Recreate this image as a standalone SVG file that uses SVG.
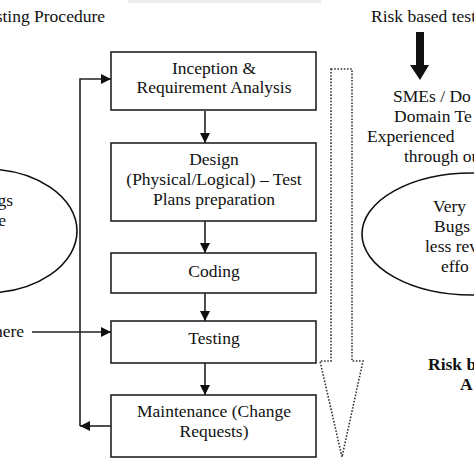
<svg xmlns="http://www.w3.org/2000/svg" width="474" height="474" viewBox="0 0 474 474">
<defs>
<style>
text{font-family:"Liberation Serif","Times New Roman",serif;font-size:17.5px;fill:#111}
.c{text-anchor:middle}
.b{font-weight:bold}
.box{fill:#fff;stroke:#222;stroke-width:1.6}
.ln{fill:none;stroke:#222;stroke-width:1.6}
</style>
<marker id="ah" viewBox="0 0 10 10" refX="10" refY="5" markerWidth="10" markerHeight="10" markerUnits="userSpaceOnUse" orient="auto">
<path d="M0,0 L10,5 L0,10 Z" fill="#111"/>
</marker>
</defs>
<rect width="474" height="474" fill="#fff"/>
<rect x="128" y="0" width="193" height="3" fill="#eeeeee"/>
<text x="105" y="22" text-anchor="end">sting Procedure</text>
<text x="371" y="22">Risk based test</text>

<g id="connectors">
<line class="ln" x1="205" y1="111" x2="205" y2="143" marker-end="url(#ah)"/>
<line class="ln" x1="205" y1="221" x2="205" y2="253" marker-end="url(#ah)"/>
<line class="ln" x1="205" y1="293" x2="205" y2="321" marker-end="url(#ah)"/>
<line class="ln" x1="205" y1="363" x2="205" y2="395" marker-end="url(#ah)"/>
<line class="ln" x1="111" y1="426" x2="80" y2="426" marker-end="url(#ah)"/>
<polyline class="ln" points="80,426 80,79 111,79" marker-end="url(#ah)"/>
<line class="ln" x1="32" y1="332" x2="111" y2="332" marker-end="url(#ah)"/>
<polygon points="331,69 352,69 352,361 363,361 342,457 320,361 331,361" fill="none" stroke="#333" stroke-width="1.6" stroke-dasharray="1.6,1.6"/>
<path d="M416,32 H424 V65 H429 L420,80 L410,65 H416 Z" fill="#111"/>
</g>

<g id="inception">
<rect class="box" x="111" y="52" width="205" height="58"/>
<text class="c" x="214" y="74">Inception &amp;</text>
<text class="c" x="214" y="93">Requirement Analysis</text>
</g>
<g id="design">
<rect class="box" x="111" y="143" width="205" height="78"/>
<text class="c" x="214" y="165">Design</text>
<text class="c" x="214" y="185">(Physical/Logical) – Test</text>
<text class="c" x="214" y="205">Plans preparation</text>
</g>
<g id="coding">
<rect class="box" x="111" y="253" width="205" height="40"/>
<text class="c" x="214" y="277">Coding</text>
</g>
<g id="testing">
<rect class="box" x="111" y="321" width="205" height="42"/>
<text class="c" x="214" y="344">Testing</text>
</g>
<g id="maintenance">
<rect class="box" x="111" y="395" width="205" height="62"/>
<text class="c" x="214" y="417">Maintenance (Change</text>
<text class="c" x="214" y="437">Requests)</text>
</g>

<g id="left-ellipse">
<ellipse cx="-15" cy="231" rx="92" ry="62" fill="none" stroke="#111" stroke-width="1.6"/>
<text x="13" y="206" text-anchor="end">gs</text>
<text x="6" y="226" text-anchor="end">e</text>
</g>
<g id="here">
<text x="24" y="337" text-anchor="end">here</text>
</g>

<g id="smes">
<text x="393" y="102">SMEs / Do</text>
<text x="394" y="122">Domain Te</text>
<text x="367" y="142">Experienced</text>
<text x="404" y="162">through ou</text>
</g>
<g id="right-ellipse">
<ellipse cx="472" cy="234" rx="110" ry="61" fill="none" stroke="#111" stroke-width="1.6"/>
<text x="433" y="212">Very</text>
<text x="434" y="232">Bugs</text>
<text x="425" y="252">less rev</text>
<text x="441" y="272">effo</text>
</g>
<g id="risk-label">
<text class="b" x="428" y="370">Risk b</text>
<text class="b" x="460" y="390">A</text>
</g>
</svg>
